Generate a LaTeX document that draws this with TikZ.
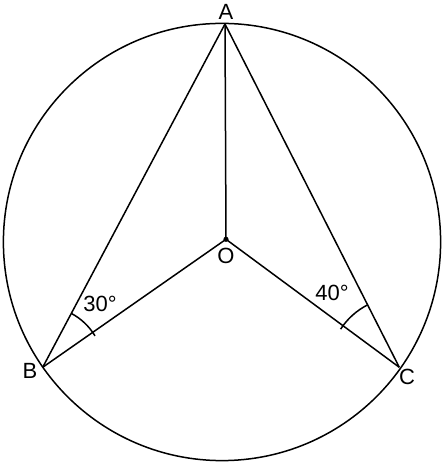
\documentclass[tikz,border=0pt]{standalone}
\usepackage{fontspec}
\setmainfont{Liberation Sans}
\begin{document}
\begin{tikzpicture}[x=1pt,y=1pt,
  geo/.style={line width=1.5pt, black},
  lbl/.style={font=\fontsize{22}{24}\selectfont, inner sep=0pt}]
\useasboundingbox (0,0) rectangle (447,468);
\coordinate (Z) at (222,226);
\coordinate (A) at (225,444);
\coordinate (O) at (226,228.7);
\coordinate (B) at (42.7,100.7);
\coordinate (C) at (399.3,100.7);
\draw[geo] (Z) circle (218.6);
\draw[geo] (A) -- (B);
\draw[geo] (A) -- (C);
\draw[geo] (A) -- (O);
\draw[geo] (O) -- (B);
\draw[geo] (O) -- (C);
\fill (O) circle (2.6);
% angle arcs
\draw[geo] ([shift={(31:61)}]B) arc (31:62:61);
\draw[geo] ([shift={(117:70)}]C) arc (117:147:70);
\node[lbl] (lA) at (226,456) {A};
\node[lbl] (lO) at (226,212) {O};
\node[lbl] (lB) at (30,97) {B};
\node[lbl] (lC) at (407,91) {C};
\node[lbl] (l30) at (100,164) {30°};
\node[lbl] (l40) at (332,175) {40°};
\end{tikzpicture}
\end{document}
